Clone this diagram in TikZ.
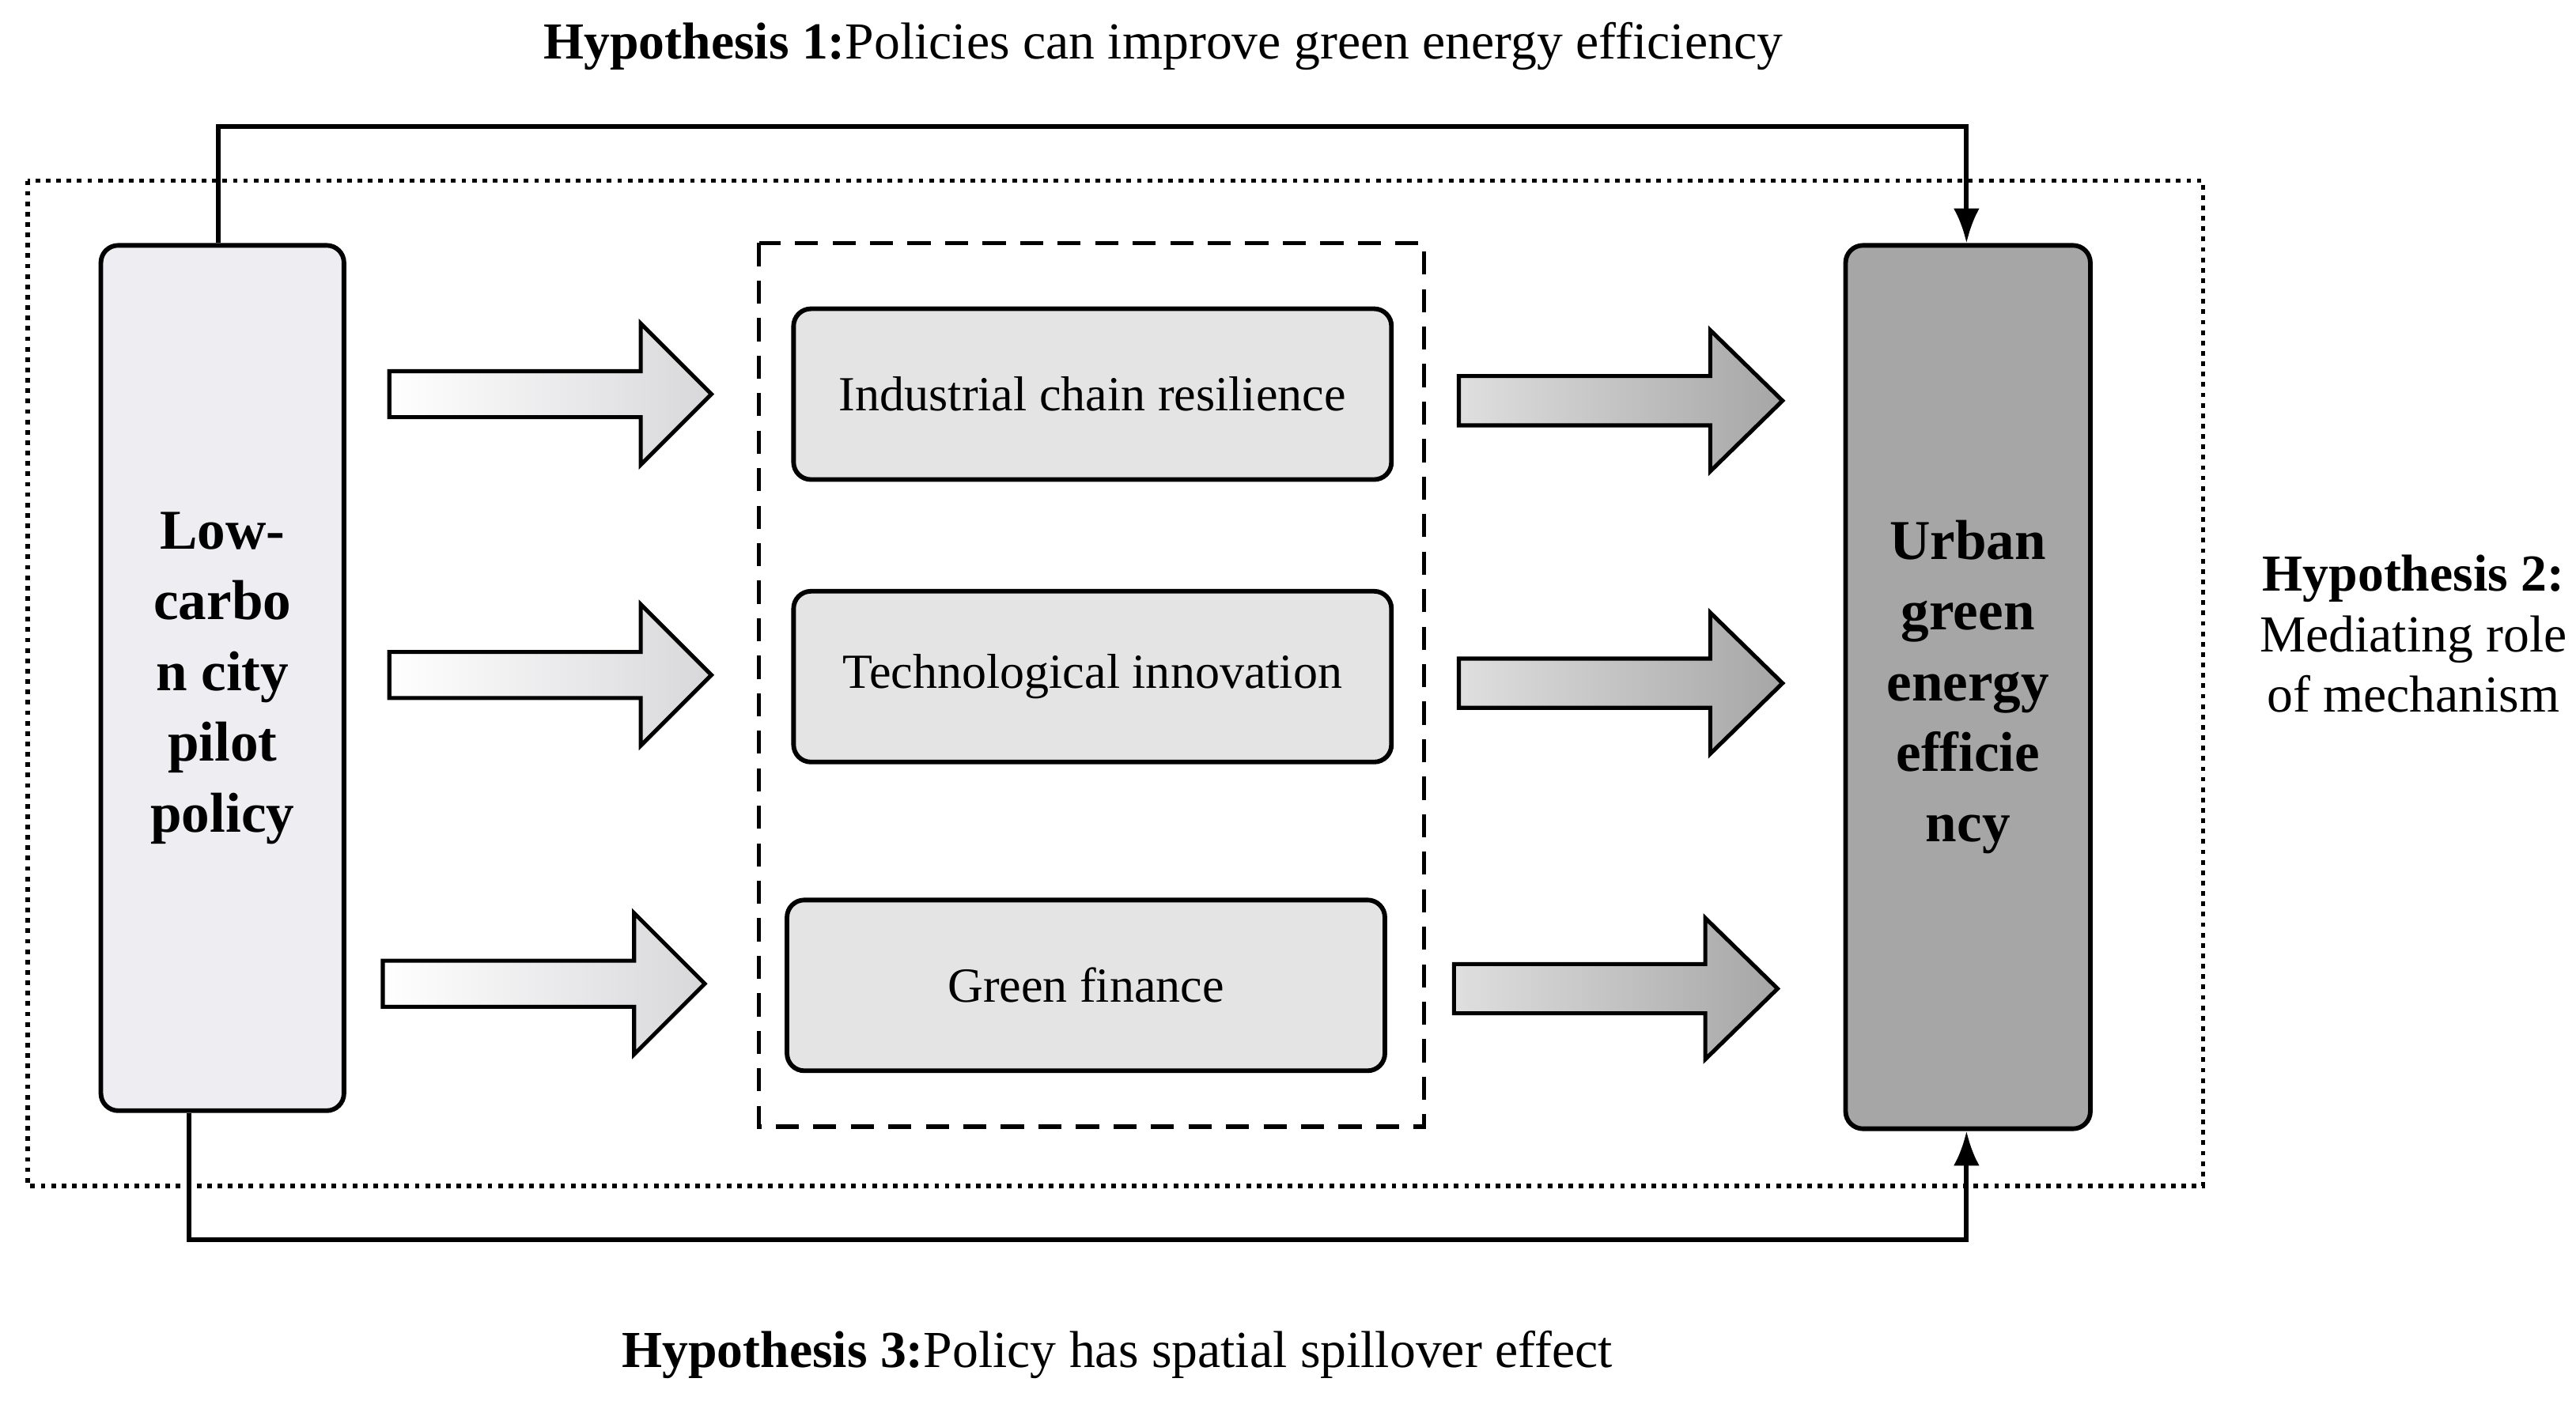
\documentclass[tikz,border=0pt]{standalone}
\usepackage{fontspec}
\setmainfont{Liberation Serif}
\usetikzlibrary{arrows.meta}
\definecolor{lbox}{HTML}{EEEEF2}
\definecolor{rbox}{HTML}{A6A6A6}
\definecolor{ibox}{HTML}{E4E4E4}
\tikzset{
 bigbox/.style={draw,line width=1.6pt,rounded corners=6pt},
 inbox/.style={draw,line width=1.6pt,rounded corners=6pt,fill=ibox,font=\fontsize{17}{20}\selectfont},
 larr/.style={draw,line width=1.4pt,left color=white,right color=lbox!80!gray},
 rarr/.style={draw,line width=1.4pt,left color=gray!25,right color=gray!70},
 conn/.style={line width=1.6pt,-{Latex[length=12pt,width=9pt]}},
 hyp/.style={font=\fontsize{18}{21}\selectfont}
}
\begin{document}
\begin{tikzpicture}[x=0.02cm,y=-0.02cm]
\useasboundingbox (0,0) rectangle (1568,853);
\draw[line width=1.6pt,dotted] (17,110) rectangle (1341,722);
\draw[line width=1.4pt,dash pattern=on 8pt off 5pt] (462,148) rectangle (867,686);
\node[bigbox,fill=lbox,minimum width=2.96cm,minimum height=10.54cm,anchor=north west,
 align=center,font=\bfseries\fontsize{19.5}{24.5}\selectfont] (L) at (60,148) {Low-\\carbo\\n city\\pilot\\policy};
\node[bigbox,fill=rbox,minimum width=2.98cm,minimum height=10.76cm,anchor=north west,
 align=center,font=\bfseries\fontsize{19.5}{24.5}\selectfont] (R) at (1122,148) {Urban\\green\\energy\\efficie\\ncy};
\node[inbox,minimum width=7.28cm,minimum height=2.08cm] (A) at (665,240) {Industrial chain resilience};
\node[inbox,minimum width=7.28cm,minimum height=2.08cm] (B) at (665,412) {Technological innovation};
\node[inbox,minimum width=7.28cm,minimum height=2.08cm] (C) at (661,600) {Green finance};
\foreach \y/\xa in {240/237,411/237,599/233}{
 \draw[larr] (\xa,\y-14) -- (\xa+153,\y-14) -- (\xa+153,\y-43) -- (\xa+196,\y) -- (\xa+153,\y+43) -- (\xa+153,\y+14) -- (\xa,\y+14) -- cycle;}
\foreach \y/\xa in {244/888,416/888,602/885}{
 \draw[rarr] (\xa,\y-15) -- (\xa+153,\y-15) -- (\xa+153,\y-43) -- (\xa+197,\y) -- (\xa+153,\y+43) -- (\xa+153,\y+15) -- (\xa,\y+15) -- cycle;}
\coordinate (t1) at (133,77);
\coordinate (t2) at (1197,77);
\coordinate (b1) at (115,755);
\coordinate (b2) at (1197,755);
\draw[conn] (L.north -| t1) -- (t1) -- (t2) -- (R.north -| t2);
\draw[conn] (L.south -| b1) -- (b1) -- (b2) -- (R.south -| b2);
\node[hyp] (h1) at (708,28) {\textbf{Hypothesis 1:}Policies can improve green energy efficiency};
\node[hyp] (h3) at (680,825) {\textbf{Hypothesis 3:}Policy has spatial spillover effect};
\node[hyp,align=center] (h2) at (1469,386) {\textbf{Hypothesis 2:}\\Mediating role\\of mechanism};
\end{tikzpicture}
\end{document}
